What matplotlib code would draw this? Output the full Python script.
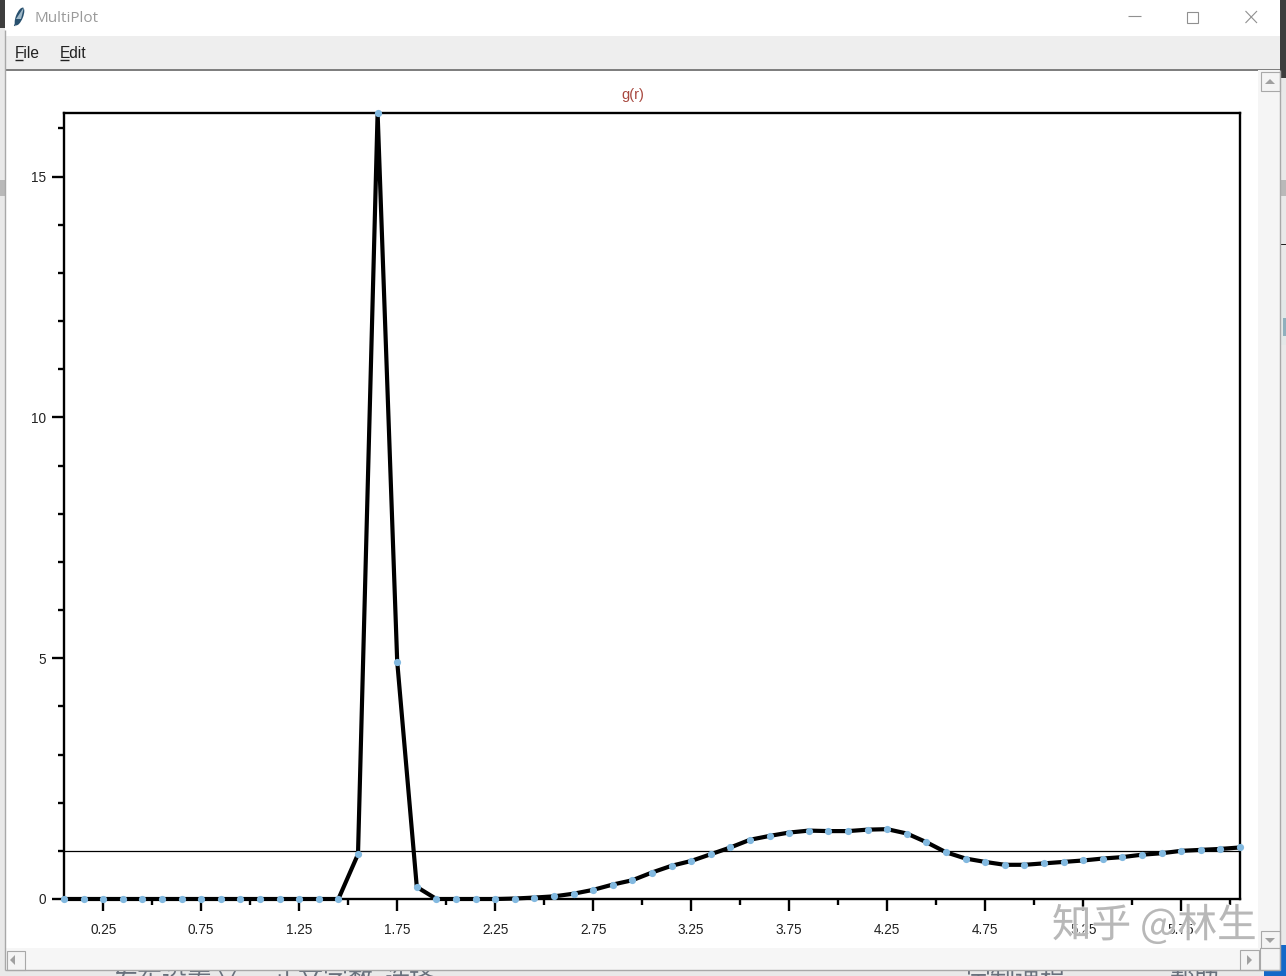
import matplotlib
matplotlib.use("Agg")
import matplotlib.pyplot as plt
from matplotlib.patches import Rectangle, Polygon, Ellipse
import matplotlib.patheffects as pe
from matplotlib.ticker import FixedLocator, FixedFormatter

plt.rcParams['font.family'] = ['Liberation Sans', 'Noto Sans CJK SC', 'DejaVu Sans']

# -------------------------
# Data
# -------------------------
r = [0.05, 0.15, 0.25, 0.35, 0.45, 0.55, 0.65, 0.75, 0.85, 0.95,
     1.05, 1.15, 1.25, 1.35, 1.45, 1.55, 1.65, 1.75, 1.85, 1.95,
     2.05, 2.15, 2.25, 2.35, 2.45, 2.55, 2.65, 2.75, 2.85, 2.95,
     3.05, 3.15, 3.25, 3.35, 3.45, 3.55, 3.65, 3.75, 3.85, 3.95,
     4.05, 4.15, 4.25, 4.35, 4.45, 4.55, 4.65, 4.75, 4.85, 4.95,
     5.05, 5.15, 5.25, 5.35, 5.45, 5.55, 5.65, 5.75, 5.85, 5.95, 6.05]
g = [0, 0, 0, 0, 0, 0, 0, 0, 0, 0,
     0, 0, 0, 0, 0, 0.93, 16.32, 4.93, 0.25, 0,
     0, 0, 0, 0.01, 0.03, 0.055, 0.11, 0.19, 0.30, 0.39,
     0.55, 0.69, 0.79, 0.93, 1.07, 1.23, 1.31, 1.38, 1.42, 1.41,
     1.41, 1.44, 1.45, 1.36, 1.18, 0.97, 0.84, 0.77, 0.71, 0.71,
     0.74, 0.77, 0.80, 0.84, 0.87, 0.92, 0.95, 1.00, 1.02, 1.04, 1.07]

x_major = [0.25, 0.75, 1.25, 1.75, 2.25, 2.75, 3.25, 3.75, 4.25, 4.75, 5.25, 5.75]
x_labels = ["0.25", "0.75", "1.25", "1.75", "2.25", "2.75", "3.25", "3.75",
            "4.25", "4.75", "5.25", "5.75"]
x_minor = [0.5, 1.0, 1.5, 2.0, 2.5, 3.0, 3.5, 4.0, 4.5, 5.0, 5.5, 6.0]
y_major = [0, 5, 10, 15]
y_labels = ["0", "5", "10", "15"]
y_minor = [1, 2, 3, 4, 6, 7, 8, 9, 11, 12, 13, 14, 16]

W, H = 1286, 976
fig = plt.figure(figsize=(W / 100, H / 100), dpi=100)

# -------------------------
# Window around the plot, in pixel coordinates
# -------------------------
win = fig.add_axes([0, 0, 1, 1], zorder=0)
win.set_xlim(0, W)
win.set_ylim(H, 0)
win.axis("off")


def box(x0, y0, x1, y1, color, z=1, edge="none", lw=0):
    win.add_patch(Rectangle((x0, y0), x1 - x0, y1 - y0, facecolor=color,
                            edgecolor=edge, linewidth=lw, zorder=z))


def line(xs, ys, color, lw=1.0, z=3):
    win.plot(xs, ys, color=color, lw=lw, zorder=z, solid_capstyle="butt")


# what sits behind the window
box(0, 0, W, H, "#e9e9e9", 0)
box(0, 0, W, 2, "#3a3a3a", 0.5)
box(0, 0, 5, 28, "#3d3d3d", 0.5)
box(1280, 0, W, 78, "#3d3d3d", 0.5)
box(0, 180, 5, 196, "#b9b9b9", 0.5)
box(1280, 180, W, 196, "#b9b9b9", 0.5)
box(1281, 244, W, 245, "#222222", 0.5)
box(1281, 300, W, 345, "#e3e8e8", 0.5)
box(1283, 318, W, 336, "#8fb0bd", 0.5)
box(1264, 945, W, H, "#1468c8", 0.5)
for s, x in zip(["发布设置", "∨", "正文字数", "选择"], [112, 214, 274, 385]):
    win.text(x, 968, s, fontsize=18, color="#68707c", va="top", zorder=0.6)
for s, x in zip(["定制课程", "帮助"], [965, 1170]):
    win.text(x, 968, s, fontsize=18, color="#68707c", va="top", zorder=0.6)

# window body
box(5, 0, 1280, 970, "#ffffff", 1)
box(5, 36, 1280, 69, "#eeeeee", 1.1)
box(5, 68.5, 1280, 70.5, "#7f7f7f", 1.2)
line([5, 5], [30, 970], "#a8a8a8", 1.0)
line([1280, 1280], [70, 970], "#a8a8a8", 1.0)
line([5, 1280], [970, 970], "#a8a8a8", 1.0)

# title bar
win.add_patch(Ellipse((19.5, 16.5), 7, 19, angle=22, facecolor="#28506e", zorder=3))
win.add_patch(Polygon([[16, 19], [24, 7], [21, 19]], facecolor="#9fb8c8", zorder=3.1))
line([14.5, 17], [26, 20], "#28506e", 1.0)
win.text(35, 18.5, "MultiPlot", fontsize=11, color="#9a9a9a", va="center",
         family="Open Sans", zorder=3)
line([1128, 1141], [16, 16], "#909090", 0.8)
win.add_patch(Rectangle((1186.5, 11.5), 11, 11, facecolor="none", edgecolor="#909090",
                        lw=0.8, zorder=3))
line([1245.5, 1257], [11, 23], "#909090", 0.8)
line([1245.5, 1257], [23, 11], "#909090", 0.8)

# menu bar
win.text(15, 53.5, "File", fontsize=11.2, color="#222222", va="center", zorder=3)
win.text(60, 53.5, "Edit", fontsize=11.2, color="#222222", va="center", zorder=3)
line([15, 23], [60, 60], "#222222", 1.0)
line([60, 69], [60, 60], "#222222", 1.0)

# scroll bars
box(1258, 70, 1280, 948, "#f5f5f5", 1.3)
box(5, 948, 1280, 970, "#f6f6f6", 1.3)
for x0, y0, x1, y1 in [(1261, 72, 1280, 91), (1261, 931, 1280, 948),
                       (7, 951, 25, 970), (1240, 950, 1259, 970),
                       (1260, 948, 1280, 970)]:
    box(x0, y0, x1, y1, "#f4f4f4", 1.4, edge="#a8a8a8", lw=0.8)
win.add_patch(Polygon([[1265, 84], [1275, 84], [1270, 79]], facecolor="#a0a0a0", zorder=3))
win.add_patch(Polygon([[1265, 938], [1275, 938], [1270, 943]], facecolor="#a0a0a0", zorder=3))
win.add_patch(Polygon([[15, 955], [15, 965], [10, 960]], facecolor="#a0a0a0", zorder=3))
win.add_patch(Polygon([[1247, 955], [1247, 965], [1252, 960]], facecolor="#a0a0a0", zorder=3))

# -------------------------
# The g(r) plot
# -------------------------
ax = fig.add_axes([64 / W, (H - 899) / H, 1176 / W, 786 / H], zorder=2)
ax.set_xlim(0.05, 6.05)
ax.set_ylim(0, 16.32)

ax.axhline(1, color="black", lw=0.9, zorder=1)
ax.plot(r, g, color="black", lw=3.0, zorder=2, clip_on=False, solid_joinstyle="miter")
ax.plot(r, g, ls="none", marker="o", ms=5.2, mfc="#82b9e0", mec="none",
        zorder=4, clip_on=False)

for side in ax.spines:
    ax.spines[side].set_linewidth(1.7)
    ax.spines[side].set_zorder(3)

ax.xaxis.set_major_locator(FixedLocator(x_major))
ax.xaxis.set_major_formatter(FixedFormatter(x_labels))
ax.xaxis.set_minor_locator(FixedLocator(x_minor))
ax.yaxis.set_major_locator(FixedLocator(y_major))
ax.yaxis.set_major_formatter(FixedFormatter(y_labels))
ax.yaxis.set_minor_locator(FixedLocator(y_minor))
ax.tick_params(which="major", length=8.5, width=1.7, labelsize=9.8, labelcolor="#222222")
ax.tick_params(which="minor", length=4.3, width=1.7)
ax.tick_params(axis="x", which="major", pad=8.5)
ax.tick_params(axis="y", which="major", pad=4.5)

ax.text(0.484, 1.023, "g(r)", transform=ax.transAxes, ha="center", va="center",
        fontsize=10.5, color="#a8483f")

# watermark
fig.text(1052 / W, (H - 926) / H, "知乎 @林生", fontsize=28.5, color="#b8b8b8",
         family=["Noto Sans CJK SC", "DejaVu Sans"], va="center", zorder=5,
         path_effects=[pe.withStroke(linewidth=1.5, foreground="white", alpha=0.6)])

fig.savefig("out.png", dpi=100)
